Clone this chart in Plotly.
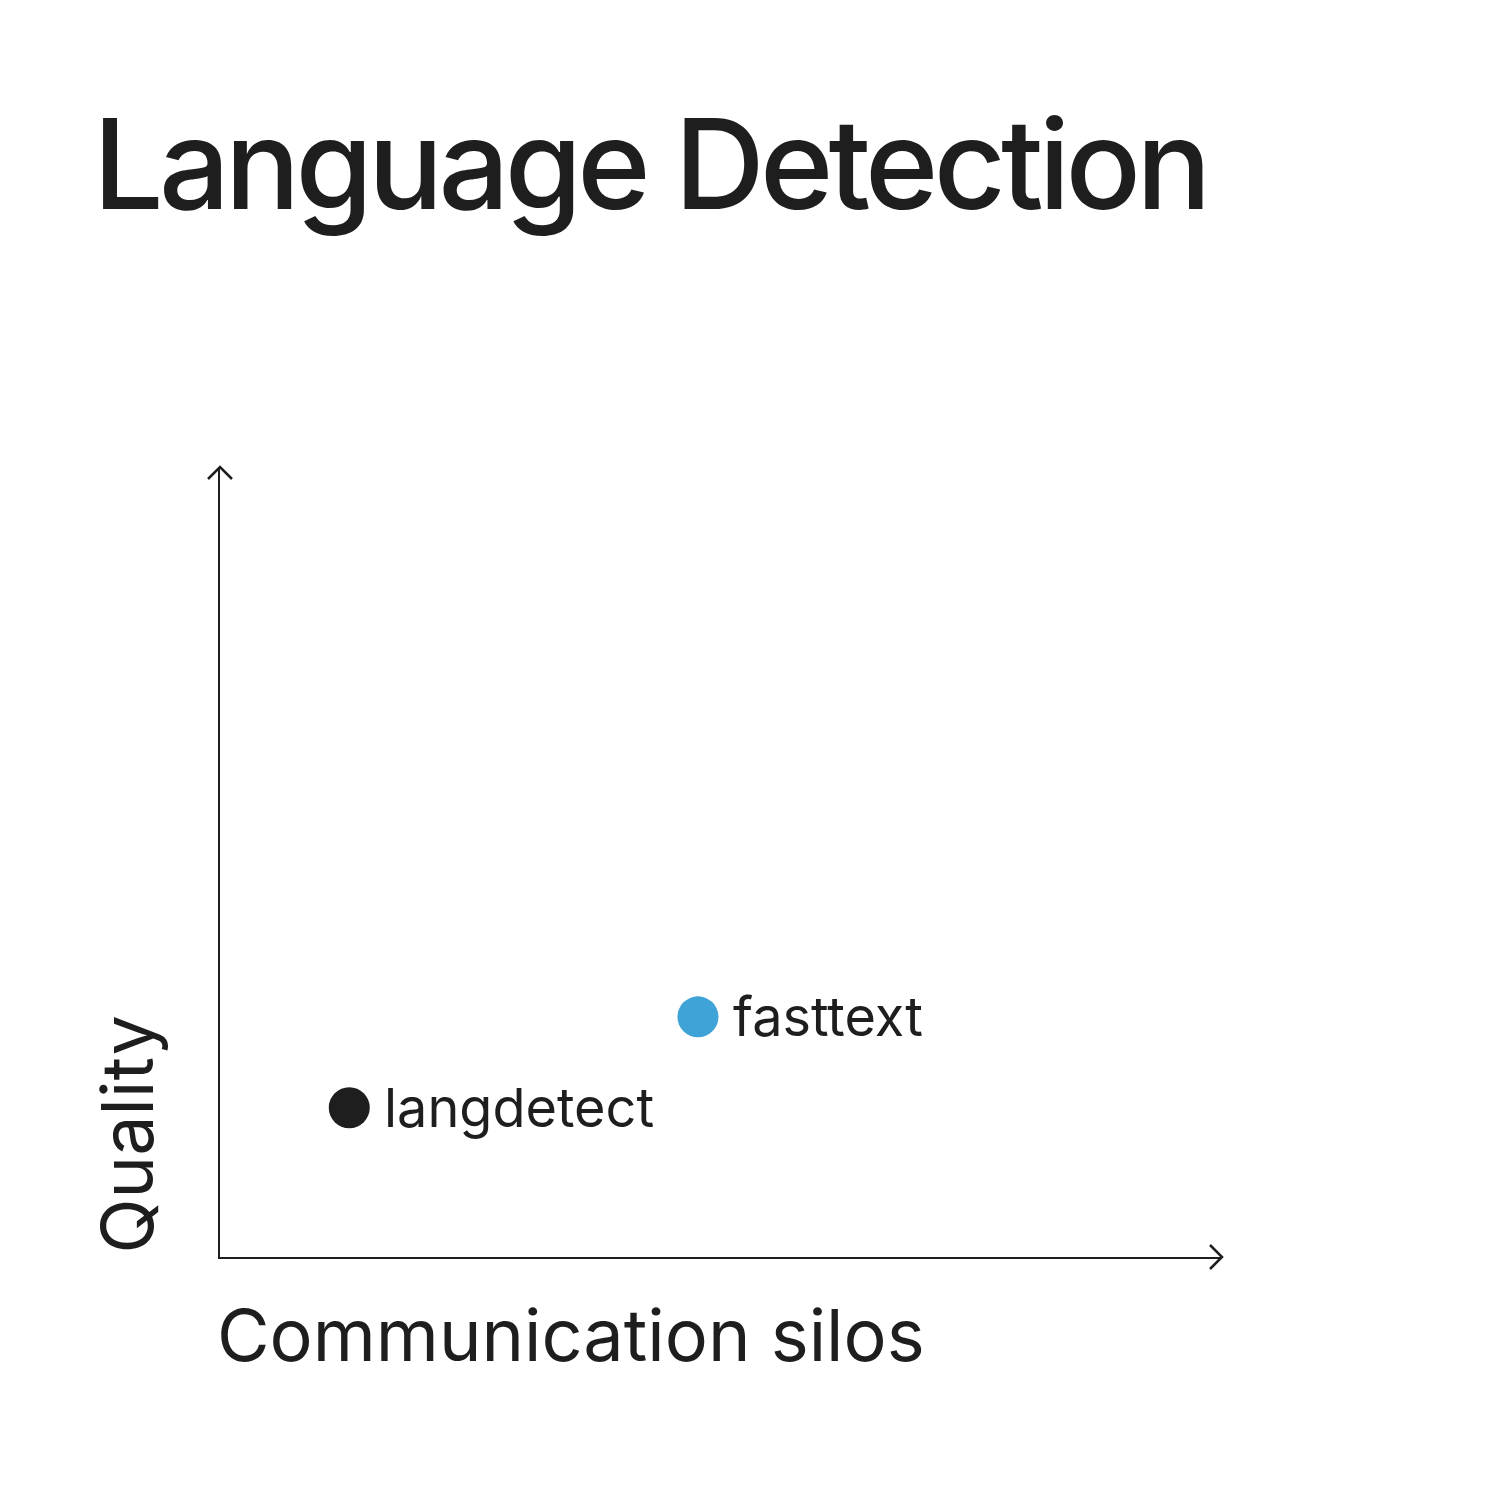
import plotly.graph_objects as go

# Data
tools = ["langdetect", "fasttext"]
silos = [12.9, 47.7]
quality = [18.9, 30.4]
colors = ["#1e1e1e", "#3fa3d7"]

title_text = "Language Detection"
x_label = "Communication silos"
y_label = "Quality"

INK = "#1e1e1e"
FONT = "Inter"

fig = go.Figure()
fig.add_trace(go.Scatter(
    x=silos, y=quality, mode="markers",
    marker=dict(size=41, color=colors, line=dict(width=0)),
    hoverinfo="text", text=tools, showlegend=False,
))

for t, xv, yv in zip(tools, silos, quality):
    fig.add_annotation(x=xv, y=yv, xref="x", yref="y", text=t, showarrow=False,
                       xanchor="left", yanchor="middle", xshift=33, yshift=0,
                       font=dict(family=FONT, size=54, color=INK))

# axis labels
fig.add_annotation(x=0, y=-0.04, xref="paper", yref="paper", text=x_label,
                   showarrow=False, xanchor="left", yanchor="top", xshift=-5,
                   font=dict(family=FONT, size=72, color=INK))
fig.add_annotation(x=0, y=0, xref="paper", yref="paper", text=y_label,
                   showarrow=False, textangle=-90, xanchor="right", yanchor="bottom",
                   xshift=-49, yshift=1,
                   font=dict(family=FONT, size=72, color=INK))

# arrow heads (chevrons) at the axis ends
fig.add_shape(type="path", xref="paper", yref="paper", xsizemode="pixel", ysizemode="pixel",
              xanchor=1, yanchor=0, path="M -12,12 L 0,0 L -12,-12",
              line=dict(color=INK, width=2.5))
fig.add_shape(type="path", xref="paper", yref="paper", xsizemode="pixel", ysizemode="pixel",
              xanchor=0, yanchor=1, path="M -12,-12 L 0,0 L 12,-12",
              line=dict(color=INK, width=2.5))

fig.update_layout(
    width=1501, height=1501,
    margin=dict(l=220, r=279, t=467, b=244),
    paper_bgcolor="white", plot_bgcolor="white",
    title=dict(text=title_text, x=93/1501, xanchor="left", xref="container",
               y=1 - 165/1501, yanchor="middle", yref="container",
               font=dict(family=FONT, size=125, color=INK, weight=500)),
    xaxis=dict(range=[0, 100], showgrid=False, zeroline=False, showticklabels=False,
               ticks="", showline=True, linecolor=INK, linewidth=2.2, fixedrange=True),
    yaxis=dict(range=[0, 100], showgrid=False, zeroline=False, showticklabels=False,
               ticks="", showline=True, linecolor=INK, linewidth=2.2, fixedrange=True),
)

fig.write_html("out.html", config={"displayModeBar": False},
               post_script="document.body.style.margin='0';"
                           "document.querySelectorAll('.gtitle').forEach(function(e){e.style.letterSpacing='-4.8px';});")
